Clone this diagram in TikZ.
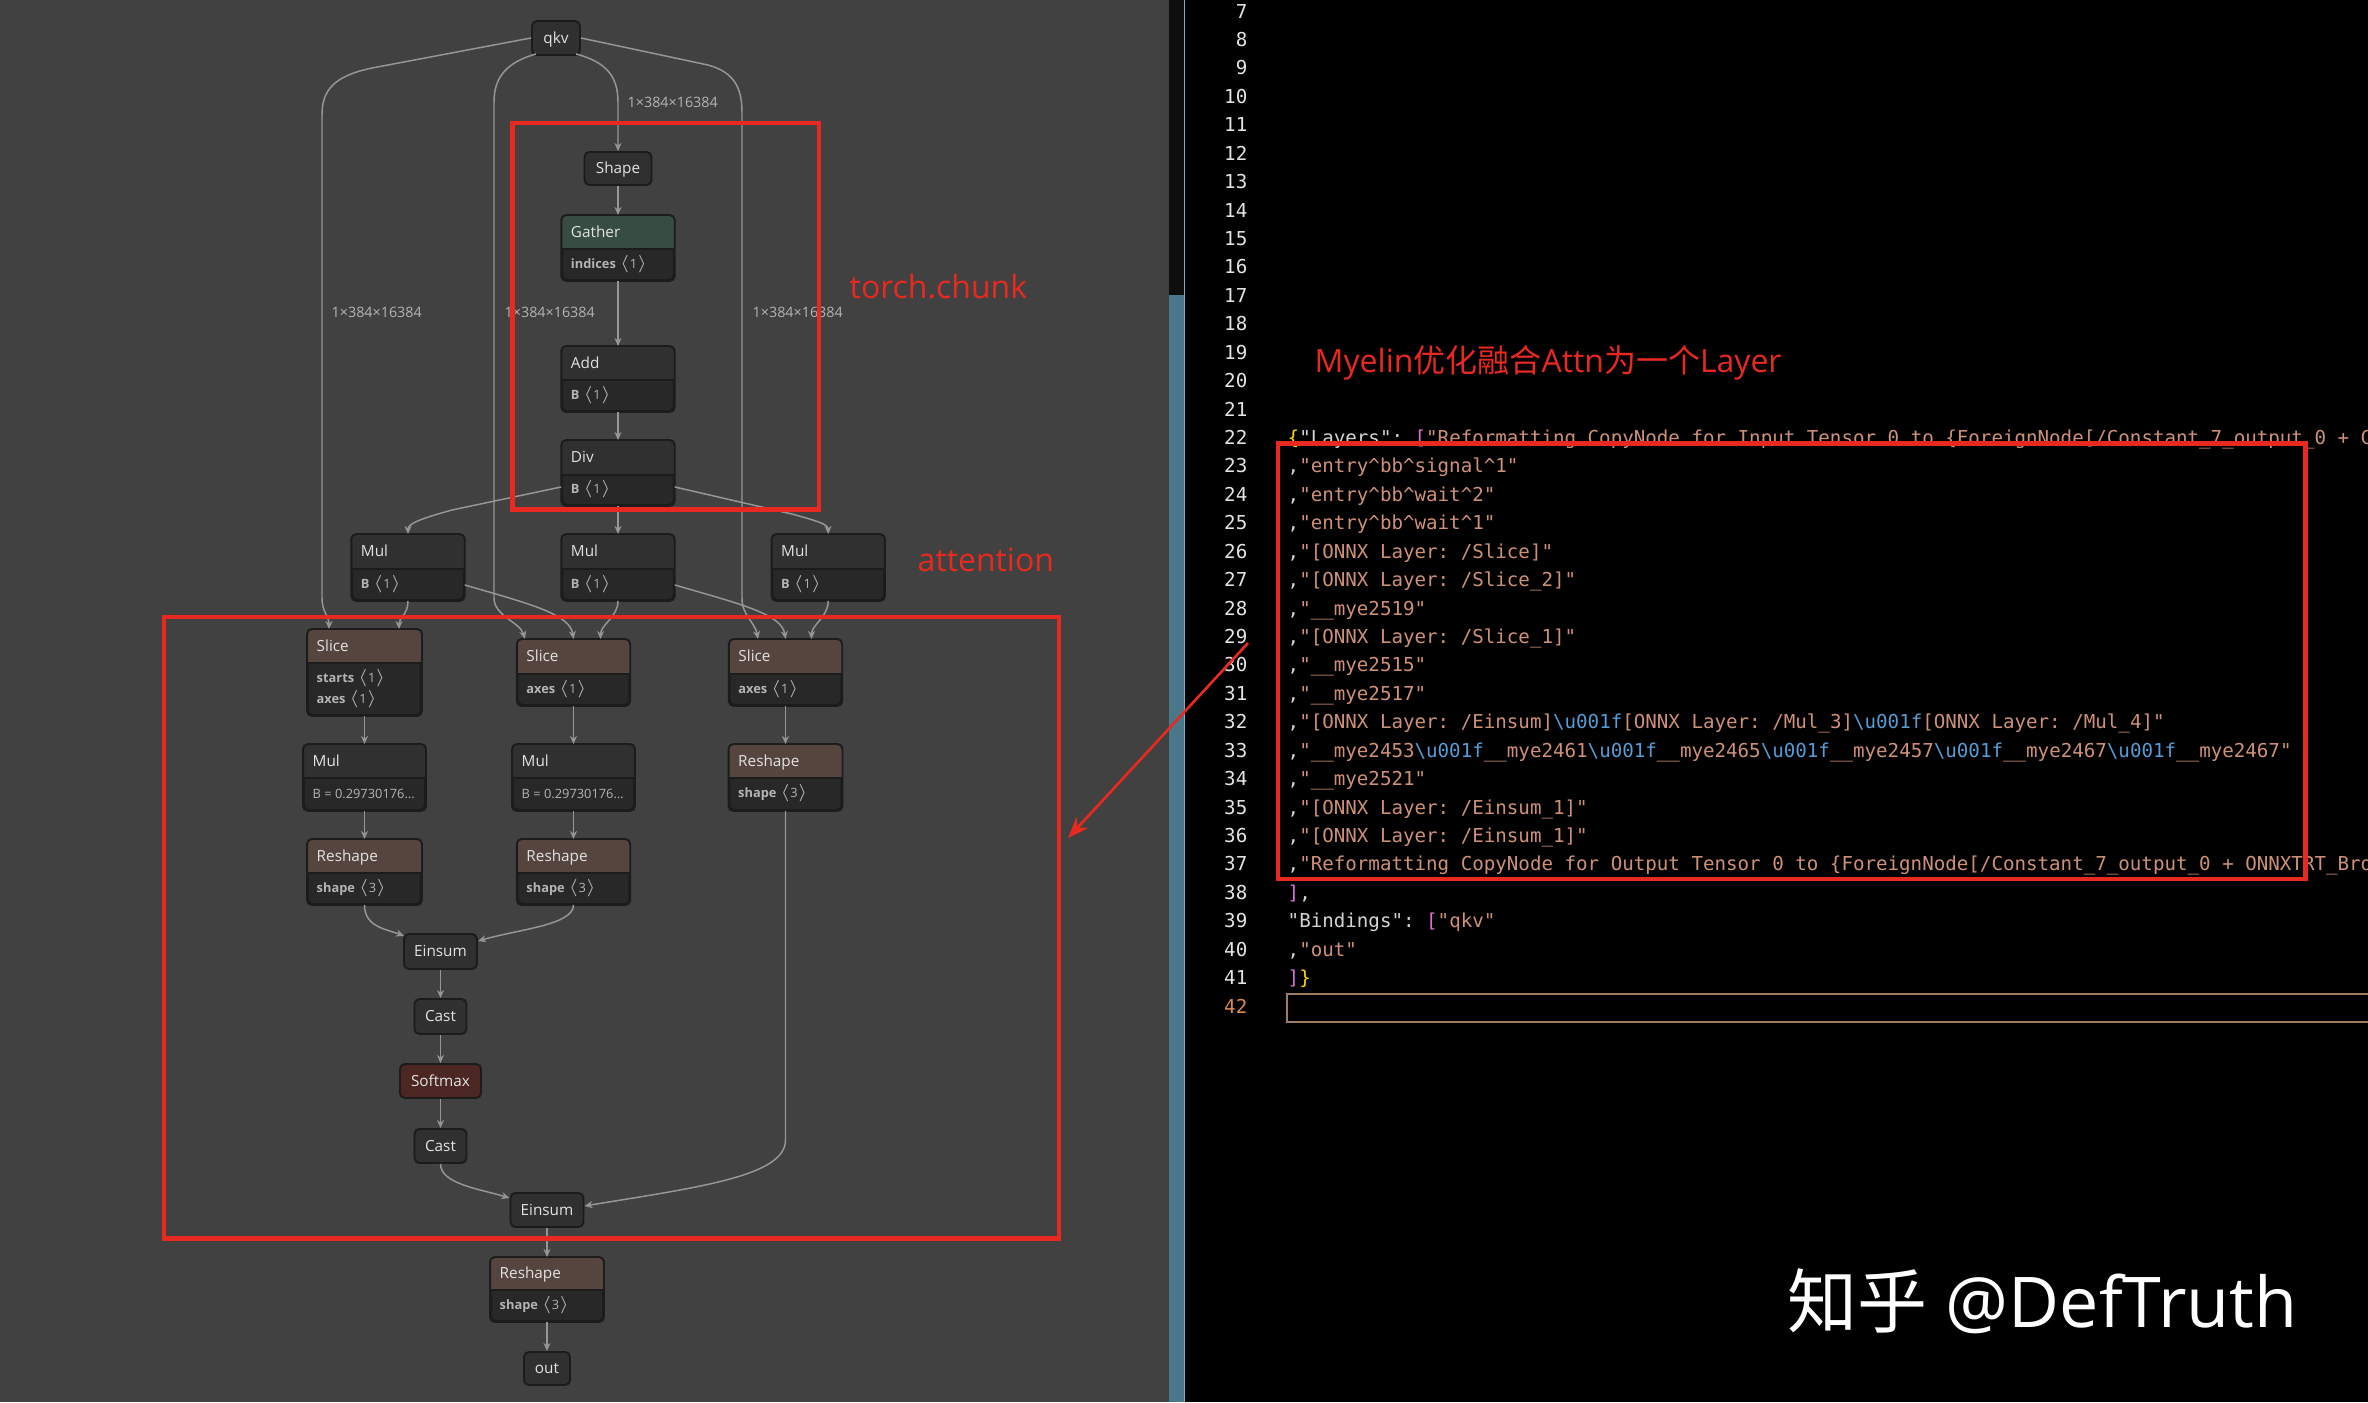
\documentclass[tikz,border=0pt]{standalone}
\usepackage{fontspec}
\usetikzlibrary{positioning,calc,arrows.meta}
\newfontfamily\graphfont{Open Sans}
\newfontfamily\codefont[Ligatures=TeXOff]{DejaVu Sans Mono}
\newfontfamily\cjk{Noto Sans CJK SC}
\definecolor{Fond}{HTML}{414141}
\definecolor{Tete}{HTML}{303030}
\definecolor{Corps}{HTML}{282828}
\definecolor{Bord}{HTML}{1C1C1C}
\definecolor{Brun}{HTML}{56453F}
\definecolor{Vert}{HTML}{384D42}
\definecolor{Sombre}{HTML}{4B2622}
\definecolor{Lien}{HTML}{969696}
\definecolor{Etiq}{HTML}{B4B4B4}
\definecolor{Titre}{HTML}{E2E2E2}
\definecolor{Rouge}{HTML}{E8291F}
\definecolor{Barre}{HTML}{0E0E0E}
\definecolor{BarreBleu}{HTML}{4A7789}
\definecolor{Filet}{HTML}{7FAFC4}
\definecolor{Chaine}{HTML}{CE9178}
\definecolor{Echap}{HTML}{569CD6}
\definecolor{Ponct}{HTML}{D4D4D4}
\definecolor{Acc1}{HTML}{FFD700}
\definecolor{Acc2}{HTML}{DA70D6}
\definecolor{Numero}{HTML}{E4E4E4}
\definecolor{NumAct}{HTML}{D98B4C}
\definecolor{Cadre}{HTML}{9C7B62}
\newcommand\ang[1]{$\langle$#1$\rangle$}
\newcommand\jstr[1]{\textcolor{Chaine}{#1}}
\newcommand\jesc{\textcolor{Echap}{\textbackslash u001f}}
\newcommand\jvirg{\textcolor{Ponct}{,}}

\begin{document}
\begin{tikzpicture}[x=0.01cm,y=-0.01cm,
    op/.style={draw=Bord, line width=0.55pt, rounded corners=1.4pt, inner sep=0pt, anchor=north},
    cadre/.style={draw=Bord, line width=0.55pt, rounded corners=1.4pt},
    titre/.style={font=\graphfont\fontsize{4.35}{5}\selectfont, text=Titre, inner sep=0pt, text height=3.1pt, text depth=0pt},
    attr/.style={font=\graphfont\fontsize{3.65}{5.97}\selectfont, text=Etiq, inner sep=0pt, align=left},
    etiq/.style={font=\graphfont\fontsize{4.07}{5}\selectfont, text=Etiq, inner sep=0pt, anchor=west},
    lien/.style={draw=Lien, line width=0.42pt, -{Stealth[length=2.3pt,width=2pt]}},
    rouge/.style={draw=Rouge, line width=1.35pt},
    note/.style={font=\graphfont\fontsize{9.1}{11}\selectfont, text=Rouge, inner sep=0pt, anchor=base west},
    numero/.style={font=\codefont\fontsize{5.45}{6}\selectfont, text=Numero, inner sep=0pt, anchor=base east},
    code/.style={font=\codefont\fontsize{5.45}{6}\selectfont\frenchspacing, text=Ponct, inner sep=0pt, anchor=base west}]
  \useasboundingbox (0,0) rectangle (2368,1402);

  % fonds
  \fill[Fond] (0,0) rectangle (1169,1402);
  \fill[Barre] (1169,0) rectangle (1184,295);
  \fill[BarreBleu] (1169,295) rectangle (1184,1402);
  \fill[black] (1184,0) rectangle (2368,1402);
  \draw[Filet, line width=0.35pt] (1184.5,0) -- (1184.5,1402);

  % editeur
  \begin{scope}
    \clip (1185,0) rectangle (2368,1402);
    \foreach \n in {7,...,41}
      \node[numero] (n\n) at (1248,{18+(\n-7)*28.43}) {\n};
    \node[numero, text=NumAct] (n42) at (1248,{18+35*28.43}) {42};
    \draw[Cadre, line width=0.35pt] (1287,994) rectangle (2400,1022);
    \foreach \n/\ligne in {
      22/{\textcolor{Acc1}{\{}"Layers": \textcolor{Acc2}{[}\jstr{"Reformatting CopyNode for Input Tensor 0 to \{ForeignNode[/Constant\_7\_output\_0 + C}},
      23/{\jvirg\jstr{"entry\textasciicircum bb\textasciicircum signal\textasciicircum 1"}},
      24/{\jvirg\jstr{"entry\textasciicircum bb\textasciicircum wait\textasciicircum 2"}},
      25/{\jvirg\jstr{"entry\textasciicircum bb\textasciicircum wait\textasciicircum 1"}},
      26/{\jvirg\jstr{"[ONNX Layer: /Slice]"}},
      27/{\jvirg\jstr{"[ONNX Layer: /Slice\_2]"}},
      28/{\jvirg\jstr{"\_\_mye2519"}},
      29/{\jvirg\jstr{"[ONNX Layer: /Slice\_1]"}},
      30/{\jvirg\jstr{"\_\_mye2515"}},
      31/{\jvirg\jstr{"\_\_mye2517"}},
      32/{\jvirg\jstr{"[ONNX Layer: /Einsum]}\jesc\jstr{[ONNX Layer: /Mul\_3]}\jesc\jstr{[ONNX Layer: /Mul\_4]"}},
      33/{\jvirg\jstr{"\_\_mye2453}\jesc\jstr{\_\_mye2461}\jesc\jstr{\_\_mye2465}\jesc\jstr{\_\_mye2457}\jesc\jstr{\_\_mye2467}\jesc\jstr{\_\_mye2467"}},
      34/{\jvirg\jstr{"\_\_mye2521"}},
      35/{\jvirg\jstr{"[ONNX Layer: /Einsum\_1]"}},
      36/{\jvirg\jstr{"[ONNX Layer: /Einsum\_1]"}},
      37/{\jvirg\jstr{"Reformatting CopyNode for Output Tensor 0 to \{ForeignNode[/Constant\_7\_output\_0 + ONNXTRT\_Bro}},
      38/{\textcolor{Acc2}{]}\jvirg},
      39/{"Bindings": \textcolor{Acc2}{[}\jstr{"qkv"}},
      40/{\jvirg\jstr{"out"}},
      41/{\textcolor{Acc2}{]}\textcolor{Acc1}{\}}}}
      \node[code] (c\n) at (1287,{18+(\n-7)*28.43}) {\ligne};
  \end{scope}

  % noeuds simples
  \foreach \nom/\cx/\haut/\larg/\tot/\coul/\titre in {
      qkv/556/20/48/34/Tete/qkv, shapeop/618/151/67/33/Tete/Shape,
      einsumA/440.5/933/73/35/Tete/Einsum, castA/440.5/998/52/35/Tete/Cast,
      softmax/440.5/1063/81/34/Sombre/Softmax, castB/440.5/1128/52/34/Tete/Cast,
      einsumB/547/1192/73/34/Tete/Einsum, out/547/1351/46/33/Tete/out}
    \node[op, fill=\coul, minimum width=\larg*0.01cm, minimum height=\tot*0.01cm, titre] (\nom) at (\cx,\haut) {\titre};

  % noeuds avec attributs
  \foreach \nom/\cx/\haut/\larg/\tot/\tete/\coul/\titre/\attr in {
      gather/618/215/111.5/64/34/Vert/Gather/{\textbf{indices} \ang{1}},
      add/618/346/111.5/64/34/Tete/Add/{\textbf{B} \ang{1}},
      div/618/440/111.5/64/35/Tete/Div/{\textbf{B} \ang{1}},
      mulA/408/534/111.5/65/35/Tete/Mul/{\textbf{B} \ang{1}},
      mulB/618/534/111.5/65/35/Tete/Mul/{\textbf{B} \ang{1}},
      mulC/828.25/534/111.5/65/35/Tete/Mul/{\textbf{B} \ang{1}},
      sliceA/364.5/629/113/85/34/Brun/Slice/{\textbf{starts} \ang{1}\\\textbf{axes} \ang{1}},
      sliceB/573.5/639/111.5/65/35/Brun/Slice/{\textbf{axes} \ang{1}},
      sliceC/785.5/639/111.5/65/35/Brun/Slice/{\textbf{axes} \ang{1}},
      mulD/364.5/744/121/65/34/Tete/Mul/{B = 0.29730176…},
      mulE/573.5/744/121/65/34/Tete/Mul/{B = 0.29730176…},
      reshapeC/785.5/744/112/65/34/Brun/Reshape/{\textbf{shape} \ang{3}},
      reshapeA/364.5/839/113/64/34/Brun/Reshape/{\textbf{shape} \ang{3}},
      reshapeB/573.5/839/111.5/64/34/Brun/Reshape/{\textbf{shape} \ang{3}},
      reshapeD/547/1257/112/63/33/Brun/Reshape/{\textbf{shape} \ang{3}}}{
    \node[op, fill=Corps, minimum width=\larg*0.01cm, minimum height=\tot*0.01cm] (\nom) at (\cx,\haut) {};
    \begin{scope}
      \clip[rounded corners=1.4pt] (\nom.north west) rectangle (\nom.south east);
      \fill[\coul] (\nom.north west) rectangle ($(\nom.north east)+(0,\tete)$);
    \end{scope}
    \draw[Bord, line width=0.5pt] ($(\nom.north west)+(0,\tete)$) -- ($(\nom.north east)+(0,\tete)$);
    \draw[cadre] (\nom.north west) rectangle (\nom.south east);
    \node[titre, anchor=west] at ($(\nom.north west)+(9,\tete/2)$) {\titre};
    \node[attr, anchor=west] at ($(\nom.north west)+(9,{(\tete+\tot)/2})$) {\attr};
  }

  % liens depuis qkv
  \draw[lien] (qkv.west) -- (372,68) .. controls (334,76) and (322,90) .. (322,115) -- (322,598) .. controls (322,612) and (329,616) .. ($(sliceA.north)+(-35.5,0)$);
  \draw[lien] ($(qkv.south)+(-20,-2)$) .. controls (508,62) and (494,76) .. (494,102) -- (494,598) .. controls (494,616) and (520,622) .. ($(sliceB.north)+(-48.5,0)$);
  \draw[lien] ($(qkv.south)+(20,-2)$) .. controls (606,62) and (618,76) .. (618,102) -- (shapeop.north);
  \draw[lien] (qkv.east) -- (708,65) .. controls (734,72) and (742,88) .. (742,112) -- (742,598) .. controls (742,616) and (755,622) .. ($(sliceC.north)+(-27.5,0)$);
  \node[etiq] (dimA) at (331,312) {1×384×16384};
  \node[etiq] (dimB) at (504,312) {1×384×16384};
  \node[etiq] (dimC) at (752,312) {1×384×16384};
  \node[etiq] (dimD) at (627,102) {1×384×16384};

  % torch.chunk
  \draw[lien] (shapeop.south) -- (gather.north);
  \draw[lien] (gather.south) -- (add.north);
  \draw[lien] (add.south) -- (div.north);
  \draw[lien] ($(div.south west)+(0,-19)$) -- (452,510) .. controls (419,519) and (408,524) .. (mulA.north);
  \draw[lien] (div.south) -- (mulB.north);
  \draw[lien] ($(div.south east)+(0,-19)$) -- (792,514) .. controls (817,521) and (828,524) .. (mulC.north);

  % vers les Slice
  \draw[lien] (mulA.south) .. controls +(0,14) and +(0,-12) .. ($(sliceA.north)+(34.5,0)$);
  \draw[lien] ($(mulA.south east)+(0,-16)$) .. controls (530,604) and (570,614) .. (sliceB.north);
  \draw[lien] (mulB.south) .. controls +(0,16) and +(0,-14) .. ($(sliceB.north)+(27,0)$);
  \draw[lien] ($(mulB.south east)+(0,-16)$) .. controls (740,604) and (782,614) .. (sliceC.north);
  \draw[lien] (mulC.south) .. controls +(0,16) and +(0,-14) .. ($(sliceC.north)+(26,0)$);

  % attention
  \draw[lien] (sliceA.south) -- (mulD.north);
  \draw[lien] (mulD.south) -- (reshapeA.north);
  \draw[lien] (sliceB.south) -- (mulE.north);
  \draw[lien] (mulE.south) -- (reshapeB.north);
  \draw[lien] (sliceC.south) -- (reshapeC.north);
  \draw[lien] (reshapeA.south) .. controls +(0,22) and (386,929) .. ($(einsumA.north west)+(1,3)$);
  \draw[lien] (reshapeB.south) .. controls +(0,20) and (520,929) .. ($(einsumA.north east)+(0,8)$);
  \draw[lien] (einsumA.south) -- (castA.north);
  \draw[lien] (castA.south) -- (softmax.north);
  \draw[lien] (softmax.south) -- (castB.north);
  \draw[lien] (castB.south) .. controls +(0,20) and (480,1189) .. ($(einsumB.north west)+(0,6)$);
  \draw[lien] (reshapeC.south) -- (785.5,1140) .. controls (785.5,1176) and (700,1187) .. ($(einsumB.east)+(0,-4)$);
  \draw[lien] (einsumB.south) -- (reshapeD.north);
  \draw[lien] (reshapeD.south) -- (out.north);

  % annotations
  \draw[rouge] (512.5,123) rectangle (819,509.5);
  \draw[rouge] (164,617) rectangle (1059,1238.5);
  \draw[rouge] (1278,443.5) rectangle (2305.5,879);
  \node[note] (chunk) at (849,298) {torch.chunk};
  \node[note] (attn) at (917,571.5) {attention};
  \node[note] (myelin) at (1314,372) {Myelin{\cjk 优化融合}Attn{\cjk 为一个}Layer};
  \coordinate (depart) at (1248,643);
  \coordinate (arrivee) at (1068,838);
  \draw[Rouge, line width=0.75pt, -{Stealth[length=6pt,width=4.5pt]}] (depart) -- (arrivee);

  \node[anchor=base west, inner sep=0pt, text=white, font=\graphfont\fontsize{19.9}{22}\selectfont] (marque) at (1787,1327) {{\cjk 知乎} @DefTruth};
\end{tikzpicture}
\end{document}
